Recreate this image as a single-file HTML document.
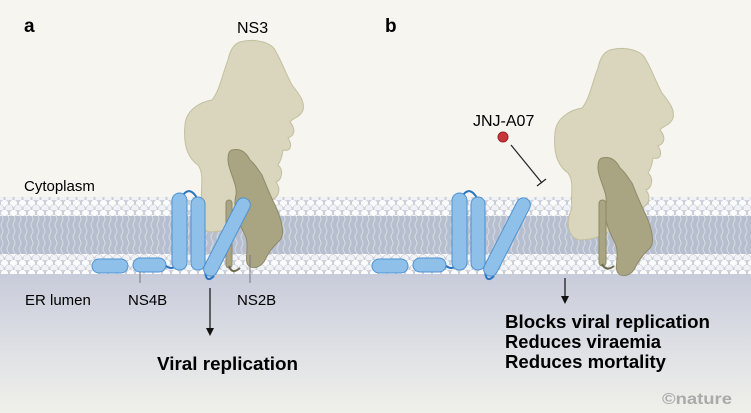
<!DOCTYPE html>
<html><head><meta charset="utf-8"><style>
html,body{margin:0;padding:0;background:#f6f5ef}
svg{display:block}
text{font-family:"Liberation Sans",sans-serif}
.b{font-weight:bold}
</style></head><body>
<svg width="751" height="413" viewBox="0 0 751 413" xmlns="http://www.w3.org/2000/svg">
<defs>
<linearGradient id="lum" x1="0" y1="0" x2="0" y2="1">
<stop offset="0" stop-color="#c6cad9"/><stop offset="0.5" stop-color="#dcdee4"/><stop offset="1" stop-color="#f0f0ea"/></linearGradient>
<pattern id="heads" width="9" height="10" patternUnits="userSpaceOnUse">
<rect width="9" height="10" fill="#cfd3dc"/>
<circle cx="4.5" cy="3.5" r="4" fill="#fbfbfc" stroke="#c3c8d3" stroke-width="0.6"/>
<circle cx="0" cy="8.5" r="4" fill="#f1f2f5" stroke="#c3c8d3" stroke-width="0.6"/><circle cx="9" cy="8.5" r="4" fill="#f1f2f5" stroke="#c3c8d3" stroke-width="0.6"/>
</pattern>
<pattern id="tails" width="6" height="12" patternUnits="userSpaceOnUse">
<rect width="6" height="12" fill="#b7bfcf"/>
<path d="M2 0 q2 3 0 6 q-2 3 0 6" stroke="#d6dbe5" stroke-width="1" fill="none"/>
</pattern>
<g id="ns3">
<path d="M240,42 C255,38 272,42 276,52 C282,62 285,72 292,85 C300,95 305,102 303,110 C300,118 292,118 290,122 C295,128 296,135 288,138 C292,144 292,152 283,150 C282,158 280,162 278,165 C284,170 282,180 276,182 C282,190 278,200 268,200 L250,215 C240,225 225,232 210,232 C198,230 195,215 202,200 C200,188 205,175 198,165 C188,158 183,145 185,125 C186,110 200,102 212,100 C220,90 222,75 228,60 C230,50 234,44 240,42 Z" fill="#d9d6bd" stroke="#c2bf9f" stroke-width="1"/>
<path d="M232,150 C240,148 246,152 250,160 C256,165 258,170 262,175 C266,185 270,195 275,205 C282,220 285,235 280,240 C275,245 270,250 266,258 C262,268 252,270 248,265 C244,260 250,245 245,235 C240,225 232,210 236,195 C238,185 228,170 228,160 C228,154 229,151 232,150 Z" fill="#a9a482" stroke="#8e8967" stroke-width="1"/>
</g>
<g id="ns4b">
<rect x="92" y="259" width="36" height="14" rx="7" fill="#8fc0ea" stroke="#4e92d0"/>
<rect x="133" y="258" width="33" height="14" rx="7" fill="#8fc0ea" stroke="#4e92d0"/>
<path d="M166,266 Q172,270 175,266 M183,195 Q190,186 197,198 M205,268 Q205,285 214,276" stroke="#2a74c0" stroke-width="2" fill="none"/>
<rect x="172" y="193" width="15" height="77" rx="7.5" fill="#8fc0ea" stroke="#4e92d0"/>
<rect x="191" y="197" width="14" height="73" rx="7" fill="#8fc0ea" stroke="#4e92d0"/>
<rect x="220" y="194" width="14" height="86" rx="7" fill="#8fc0ea" stroke="#4e92d0" transform="rotate(27 227 237)"/>
</g>
</defs>
<rect width="751" height="413" fill="#f6f5ef"/>
<rect x="0" y="268" width="751" height="145" fill="url(#lum)"/>
<rect x="0" y="197" width="751" height="20" fill="url(#heads)"/>
<rect x="0" y="216" width="751" height="40" fill="url(#tails)"/>
<rect x="0" y="254" width="751" height="20" fill="url(#heads)"/>
<!-- panel a -->
<use href="#ns3"/>
<rect x="226" y="200" width="6" height="68" rx="3" fill="#a9a482" stroke="#8e8967"/>
<path d="M229,266 Q232,275 240,268" stroke="#6f6b4f" stroke-width="2" fill="none"/>
<use href="#ns4b"/>
<!-- panel b -->
<use href="#ns4b" transform="translate(280,0)"/>
<use href="#ns3" transform="translate(370,8)"/>
<rect x="599" y="200" width="7" height="66" rx="3.5" fill="#a9a482" stroke="#8e8967"/>
<path d="M602,264 Q606,272 614,266" stroke="#6f6b4f" stroke-width="2" fill="none"/>
<!-- labels -->
<text x="24" y="32" font-size="19" font-weight="bold">a</text>
<text x="385" y="32" font-size="19" font-weight="bold">b</text>
<text x="237" y="33" font-size="16">NS3</text>
<text x="24" y="191" font-size="15">Cytoplasm</text>
<text x="25" y="305" font-size="15">ER lumen</text>
<text x="128" y="305" font-size="15">NS4B</text>
<text x="237" y="305" font-size="15">NS2B</text>
<line x1="140" y1="272" x2="140" y2="283" stroke="#777" stroke-width="1"/>
<line x1="250" y1="255" x2="250" y2="283" stroke="#777" stroke-width="1"/>
<line x1="210" y1="288" x2="210" y2="332" stroke="#111" stroke-width="1.2"/>
<path d="M206,328 L210,336 L214,328 Z" fill="#111"/>
<text x="157" y="370" font-size="18" class="b" textLength="141" lengthAdjust="spacingAndGlyphs">Viral replication</text>
<text x="473" y="126" font-size="16">JNJ-A07</text>
<circle cx="503" cy="137" r="5" fill="#c8363a" stroke="#9a2328"/>
<line x1="511" y1="145" x2="542" y2="183" stroke="#222" stroke-width="1.2"/>
<line x1="537" y1="186" x2="546" y2="179" stroke="#222" stroke-width="1.2"/>
<line x1="565" y1="278" x2="565" y2="300" stroke="#111" stroke-width="1.2"/>
<path d="M561,296 L565,304 L569,296 Z" fill="#111"/>
<text x="505" y="328" font-size="18" class="b" textLength="205" lengthAdjust="spacingAndGlyphs">Blocks viral replication</text>
<text x="505" y="348" font-size="18" class="b" textLength="156" lengthAdjust="spacingAndGlyphs">Reduces viraemia</text>
<text x="505" y="368" font-size="18" class="b" textLength="161" lengthAdjust="spacingAndGlyphs">Reduces mortality</text>
<text x="662" y="404" font-size="16" fill="#aaa" font-weight="bold" textLength="70" lengthAdjust="spacingAndGlyphs">©nature</text>
</svg>
</body></html>
